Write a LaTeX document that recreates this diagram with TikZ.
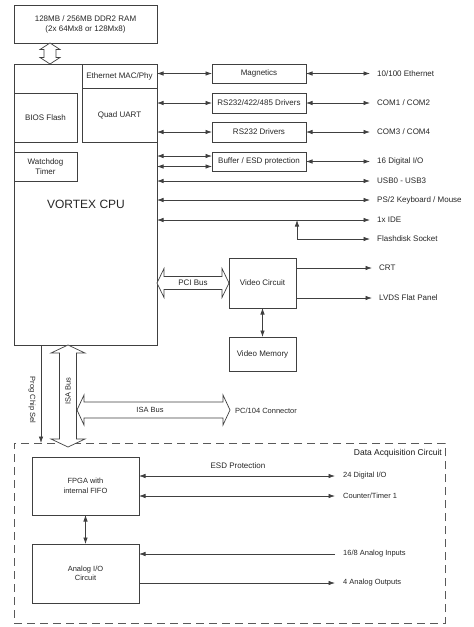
\documentclass[tikz,border=0pt]{standalone}
\usepackage{fontspec}
\setmainfont{Liberation Sans}
\usetikzlibrary{arrows.meta}
\begin{document}
\begin{tikzpicture}[x=1pt,y=-1pt,
  >={Latex[length=6.5pt,width=4.5pt]},
  ln/.style={draw=black!75, line width=0.7pt},
  box/.style={ln, rectangle, anchor=north west, inner sep=0pt, outer sep=0pt,
    align=center, font=\fontsize{8}{10}\selectfont, text=black!85},
  lbl/.style={anchor=west, inner sep=0pt, font=\fontsize{8}{10}\selectfont, text=black!85},
  slbl/.style={anchor=west, inner sep=0pt, font=\fontsize{7.5}{9}\selectfont, text=black!85},
  conn/.style={ln, <->},
  hollow/.style={ln, fill=white, line join=miter}]
\useasboundingbox (0,0) rectangle (474,627);

% ---- boxes
\node[box, minimum width=143pt, minimum height=38pt] (ram) at (14,5) {128MB / 256MB DDR2 RAM\\(2x 64Mx8 or 128Mx8)};
\node[box, minimum width=143pt, minimum height=281pt] (cpu) at (14,64) {};
\node[box, minimum width=75pt, minimum height=24pt] (eth) at (82,64) {Ethernet MAC/Phy};
\node[box, minimum width=75pt, minimum height=54pt] (uart) at (82,88) {Quad UART};
\node[box, minimum width=63pt, minimum height=49pt] (bios) at (14,93) {BIOS Flash};
\node[box, minimum width=63pt, minimum height=29pt] (wdt) at (14,152) {Watchdog\\Timer};
\node[font=\fontsize{12}{14}\selectfont, text=black!85, inner sep=0pt] (cpulbl) at (86,204) {VORTEX CPU};

\node[box, minimum width=94pt, minimum height=19pt] (mag) at (212,64) {Magnetics};
\node[box, minimum width=94pt, minimum height=20pt] (rs485) at (212,93) {RS232/422/485 Drivers};
\node[box, minimum width=94pt, minimum height=20pt] (rs232) at (212,122) {RS232 Drivers};
\node[box, minimum width=94pt, minimum height=19pt] (buf) at (212,152) {Buffer / ESD protection};

\node[box, minimum width=67pt, minimum height=50pt] (vid) at (229,258) {Video Circuit};
\node[box, minimum width=67pt, minimum height=34pt] (vmem) at (229,337) {Video Memory};

% ---- right labels
\node[lbl] (leth) at (377,73.5) {10/100 Ethernet};
\node[lbl] (lcom12) at (377,103) {COM1 / COM2};
\node[lbl] (lcom34) at (377,132) {COM3 / COM4};
\node[lbl] (ldio) at (377,161.5) {16 Digital I/O};
\node[lbl] (lusb) at (377,181) {USB0 - USB3};
\node[lbl] (lps2) at (377,200) {PS/2 Keyboard / Mouse};
\node[lbl] (lide) at (377,220) {1x IDE};
\node[lbl] (lflash) at (377,239) {Flashdisk Socket};
\node[lbl] (lcrt) at (379,268) {CRT};
\node[lbl] (llvds) at (379,298) {LVDS Flat Panel};

% ---- top connectors
\draw[conn] (eth.east |- mag.west) -- (mag.west);
\draw[conn] (cpu.east |- rs485.west) -- (rs485.west);
\draw[conn] (cpu.east |- rs232.west) -- (rs232.west);
\coordinate (b1) at ([yshift=5.5pt]buf.west);
\coordinate (b2) at ([yshift=-5pt]buf.west);
\draw[conn] (cpu.east |- b1) -- (b1);
\draw[conn] (cpu.east |- b2) -- (b2);

\draw[conn, shorten >=7pt] (mag.east) -- (mag.east -| leth.west);
\draw[conn, shorten >=7pt] (rs485.east) -- (rs485.east -| lcom12.west);
\draw[conn, shorten >=7pt] (rs232.east) -- (rs232.east -| lcom34.west);
\draw[conn, shorten >=7pt] (buf.east) -- (buf.east -| ldio.west);

\draw[conn, shorten >=7pt] (cpu.east |- lusb.west) -- (lusb.west);
\draw[conn, shorten >=7pt] (cpu.east |- lps2.west) -- (lps2.west);
\draw[conn, shorten >=7pt] (cpu.east |- lide.west) -- (lide.west);
\coordinate (fx) at (297,220);
\draw[conn, shorten >=7pt] (fx) |- (lflash.west);

\draw[ln, ->, shorten >=7pt] (vid.east |- lcrt.west) -- (lcrt.west);
\draw[ln, ->, shorten >=7pt] (vid.east |- llvds.west) -- (llvds.west);
\draw[conn] (vid.south) -- (vmem.north);

% ---- hollow arrows
\draw[hollow] (50,43) -- (60,49.5) -- (56,49.5) -- (56,57.5) -- (60,57.5) -- (50,64)
  -- (40,57.5) -- (44,57.5) -- (44,49.5) -- (40,49.5) -- cycle;
\draw[hollow] (157,283) -- (164,268.5) -- (164,276.5) -- (222,276.5) -- (222,268.5) -- (229,283)
  -- (222,297.5) -- (222,289.5) -- (164,289.5) -- (164,297.5) -- cycle;
\node[font=\fontsize{8}{10}\selectfont, text=black!85, inner sep=0pt] (pcilbl) at (193,283) {PCI Bus};

% ---- data acquisition
\node[box, dashed, dash pattern=on 8pt off 5pt, draw=black!65, minimum width=431pt, minimum height=180pt] (daq) at (14,443) {};
\node[anchor=east, inner sep=0pt, font=\fontsize{8.5}{10}\selectfont, text=black!90] (daqlbl) at (442,453) {Data Acquisition Circuit};

\draw[hollow] (68,345) -- (85,353) -- (76.5,353) -- (76.5,439) -- (85,439) -- (68,447)
  -- (51,439) -- (59.5,439) -- (59.5,353) -- (51,353) -- cycle;
\node[rotate=90, font=\fontsize{7.5}{9}\selectfont, text=black!85, inner sep=0pt] (isav) at (68,391) {ISA Bus};
\draw[hollow] (77,410) -- (84,395) -- (84,402) -- (223,402) -- (223,395) -- (230,410)
  -- (223,425) -- (223,418) -- (84,418) -- (84,425) -- cycle;
\node[font=\fontsize{7.5}{9}\selectfont, text=black!85, inner sep=0pt] (isah) at (150,410) {ISA Bus};
\node[slbl] (pc104) at (235,411) {PC/104 Connector};

\coordinate (pcs) at (41,345);
\draw[ln, ->] (pcs) -- (pcs |- daq.north);
\node[rotate=-90, font=\fontsize{7.5}{9}\selectfont, text=black!85, inner sep=0pt] (pcslbl) at (32,400) {Prog Chip Sel};

\node[box, font=\fontsize{7.5}{9.5}\selectfont, minimum width=107pt, minimum height=58pt] (fpga) at (32,457) {FPGA with\\internal FIFO};
\node[box, font=\fontsize{7.5}{9.5}\selectfont, minimum width=107pt, minimum height=59pt] (aio) at (32,544) {Analog I/O\\Circuit};
\draw[conn] (fpga.south) -- (aio.north);

\node[font=\fontsize{8}{10}\selectfont, text=black!85, inner sep=0pt] (esd) at (238,466) {ESD Protection};
\node[slbl] (l24) at (343,476) {24 Digital I/O};
\node[slbl] (lct) at (343,496) {Counter/Timer 1};
\node[slbl] (l168) at (343,554) {16/8 Analog Inputs};
\node[slbl] (l4) at (343,583) {4 Analog Outputs};

\draw[conn, shorten >=8pt] (fpga.east |- l24.west) -- (l24.west);
\draw[conn, shorten >=8pt] (fpga.east |- lct.west) -- (lct.west);
\draw[ln, ->, shorten <=8pt] (l168.west) -- (aio.east |- l168.west);
\draw[ln, ->, shorten >=8pt] (aio.east |- l4.west) -- (l4.west);
\end{tikzpicture}
\end{document}
